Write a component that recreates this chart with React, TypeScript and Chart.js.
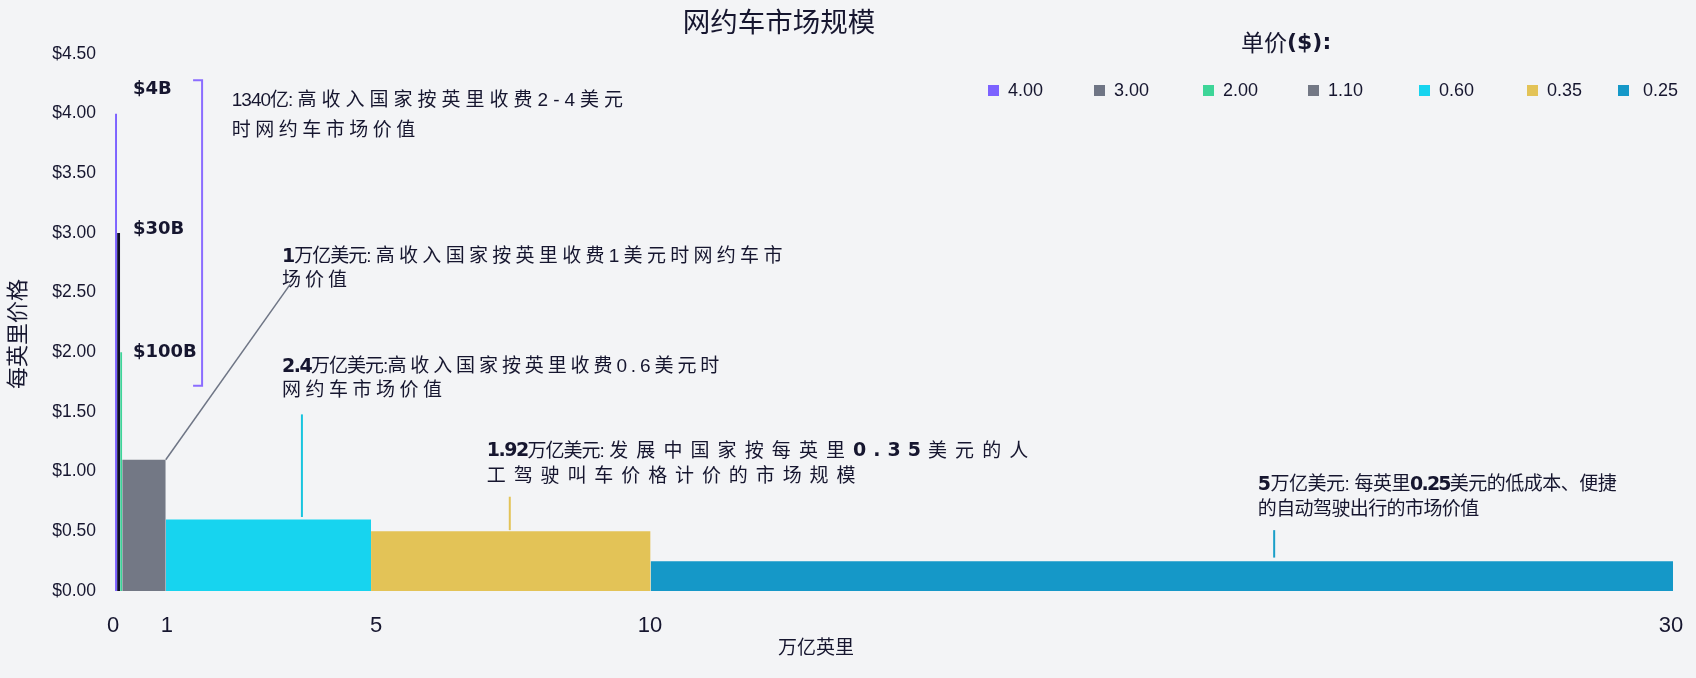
import React, { useEffect, useRef } from 'react';
import { Chart, registerables } from 'chart.js';

Chart.register(...registerables);

// unit price per mile (bar heights) and legend text
const pricePerMile = [4, 3, 2, 1.1, 0.6, 0.5, 0.25];
const priceLabels = ['4.00', '3.00', '2.00', '1.10', '0.60', '0.35', ' 0.25'];
// trillion miles covered by each price band
const milesStart = [0.04, 0.08, 0.14, 0.18, 1.03, 5.04, 10.5];
const milesEnd = [0.08, 0.14, 0.18, 1.03, 5.04, 10.5, 30.47];
const xTickValues = [0, 1.05, 5.14, 10.49, 30.43];
const xTickLabels = ['0', '1', '5', '10', '30'];
const marketLabels = ['$4B', '$30B', '$100B'];
const marketLabelY = [4.2, 3.03, 2.0];

const barColors = ['#7C62FF', '#0D0D26', '#3DD598', '#737885', '#17D4EF', '#E3C357', '#1598C8'];
const legendColors = ['#7C62FF', '#6F7585', '#3DD598', '#737885', '#17D4EF', '#E3C357', '#1598C8'];

const TEXT = '#16162F';
const FONT = '"Liberation Sans", Arial, "Noto Sans CJK SC", sans-serif';
const HEAVY = '"DejaVu Sans", "Liberation Sans", "Noto Sans CJK SC", sans-serif';
const CJK = '"Noto Sans CJK SC", "Liberation Sans", sans-serif';

type Run = { t: string; bold?: boolean; sp?: number };
type Note = { x: number; y: number; lines: Run[][]; size: number; lh: number };

const notes: Note[] = [
  {
    x: 2.32, y: 4.11, size: 19, lh: 30,
    lines: [
      [{ t: '1340亿:', sp: -1 }, { t: ' ' }, { t: '高收入国家按英里收费2-4美元', sp: 5 }],
      [{ t: '时网约车市场价值', sp: 4.5 }],
    ],
  },
  {
    x: 3.3, y: 2.8, size: 19, lh: 24,
    lines: [
      [{ t: '1', bold: true, sp: -1 }, { t: '万亿美元:', sp: -1 }, { t: ' ' }, { t: '高收入国家按英里收费1美元时网约车市', sp: 4.3 }],
      [{ t: '场价值', sp: 4 }],
    ],
  },
  {
    x: 3.3, y: 1.88, size: 19, lh: 24,
    lines: [
      [{ t: '2.4', bold: true, sp: -1.5 }, { t: '万亿美元:', sp: -1 }, { t: '高收入国家按英里收费0.6美元时', sp: 3.9 }],
      [{ t: '网约车市场价值', sp: 4.5 }],
    ],
  },
  {
    x: 7.3, y: 1.17, size: 19, lh: 25,
    lines: [
      [{ t: '1.92', bold: true, sp: -1.5 }, { t: '万亿美元:', sp: -1 }, { t: ' ' }, { t: '发展中国家按每英里', sp: 8.1 }, { t: '0.35', bold: true, sp: 7 }, { t: '美元的人', sp: 8.1 }],
      [{ t: '工驾驶叫车价格计价的市场规模', sp: 7.9 }],
    ],
  },
  {
    x: 22.36, y: 0.89, size: 19, lh: 25,
    lines: [
      [{ t: '5', bold: true, sp: -0.5 }, { t: '万亿美元:', sp: -0.5 }, { t: ' ' }, { t: '每英里', sp: -0.5 }, { t: '0.25', bold: true, sp: -1.8 }, { t: '美元的低成本、便捷', sp: -0.5 }],
      [{ t: '的自动驾驶出行的市场价值', sp: -0.6 }],
    ],
  },
];

function drawRuns(ctx: CanvasRenderingContext2D, x: number, y: number, runs: Run[], size: number) {
  let cx = x;
  for (const r of runs) {
    ctx.font = r.bold ? `bold ${size}px ${HEAVY}` : `${size}px ${FONT}`;
    for (const ch of Array.from(r.t)) {
      ctx.fillText(ch, cx, y);
      cx += ctx.measureText(ch).width + (r.sp ?? 0);
    }
  }
}

const overlay = {
  id: 'overlay',
  afterDraw(chart: Chart) {
    const ctx = chart.ctx;
    const xs = chart.scales.x;
    const ys = chart.scales.y;
    const px = (v: number) => xs.getPixelForValue(v);
    const py = (v: number) => ys.getPixelForValue(v);
    ctx.save();
    ctx.fillStyle = TEXT;
    ctx.textBaseline = 'middle';

    // title
    ctx.textAlign = 'center';
    ctx.font = `27.5px ${CJK}`;
    ctx.fillText('网约车市场规模', 779, 22);

    // axis titles
    ctx.font = `19px ${CJK}`;
    ctx.fillText('万亿英里', 816, 647);
    ctx.save();
    ctx.translate(17, 334);
    ctx.rotate(-Math.PI / 2);
    ctx.font = `22px ${CJK}`;
    ctx.fillText('每英里价格', 0, 0);
    ctx.restore();

    // legend
    ctx.textAlign = 'left';
    ctx.font = `23px ${CJK}`;
    ctx.fillText('单价', 1241, 42);
    const w = ctx.measureText('单价').width;
    ctx.font = `bold 22px ${HEAVY}`;
    ctx.fillText('($):', 1241 + w, 43);
    const legendX = [988, 1094, 1203, 1308, 1419, 1527, 1618];
    ctx.font = `18px ${FONT}`;
    priceLabels.forEach((lab, i) => {
      ctx.fillStyle = legendColors[i];
      ctx.fillRect(legendX[i], 85, 11, 11);
      ctx.fillStyle = TEXT;
      ctx.fillText(lab, legendX[i] + 20, 91);
    });

    // market size labels on thin bars
    ctx.font = `bold 18px ${HEAVY}`;
    marketLabels.forEach((lab, i) => ctx.fillText(lab, px(0.39), py(marketLabelY[i])));

    // bracket
    ctx.strokeStyle = '#8B6CFF';
    ctx.lineWidth = 2;
    ctx.beginPath();
    ctx.moveTo(px(1.74) - 9, py(4.28));
    ctx.lineTo(px(1.74), py(4.28));
    ctx.lineTo(px(1.74), py(1.72));
    ctx.lineTo(px(1.74) - 9, py(1.72));
    ctx.stroke();

    // leader lines
    ctx.strokeStyle = '#6E7585';
    ctx.lineWidth = 1.5;
    ctx.beginPath();
    ctx.moveTo(px(milesEnd[3]), py(pricePerMile[3]));
    ctx.lineTo(px(3.46), py(2.57));
    ctx.stroke();
    const vlines: [number, number, number, string][] = [
      [3.69, 0.62, 1.48, '#17C5DE'],
      [7.75, 0.51, 0.79, '#E3C357'],
      [22.68, 0.28, 0.51, '#1A9FC8'],
    ];
    ctx.lineWidth = 2;
    vlines.forEach(([x, y0, y1, c]) => {
      ctx.strokeStyle = c;
      ctx.beginPath();
      ctx.moveTo(px(x), py(y0));
      ctx.lineTo(px(x), py(y1));
      ctx.stroke();
    });

    // annotations
    ctx.fillStyle = TEXT;
    notes.forEach((n) => {
      n.lines.forEach((runs, i) => drawRuns(ctx, px(n.x), py(n.y) + i * n.lh, runs, n.size));
    });
    ctx.restore();
  },
};

const App: React.FC = () => {
  const canvasRef = useRef<HTMLCanvasElement | null>(null);

  useEffect(() => {
    document.body.style.margin = '0';
    document.body.style.background = '#F3F4F6';
    if (!canvasRef.current) return;

    const chart = new Chart(canvasRef.current, {
      type: 'line',
      data: {
        datasets: pricePerMile.map((p, i) => ({
          label: priceLabels[i],
          data: [
            { x: milesStart[i], y: p },
            { x: milesEnd[i], y: p },
          ],
          backgroundColor: barColors[i],
          borderColor: barColors[i],
          borderWidth: 0,
          pointRadius: 0,
          fill: 'origin',
        })),
      },
      options: {
        animation: false,
        responsive: false,
        layout: { padding: { top: 54, right: 23, left: 0, bottom: 0 } },
        plugins: {
          legend: { display: false },
          tooltip: { enabled: false },
          title: { display: false },
        },
        scales: {
          x: {
            type: 'linear',
            min: 0,
            max: 30.47,
            grid: { display: false, drawTicks: false },
            border: { display: false },
            afterBuildTicks: (axis: any) => {
              axis.ticks = xTickValues.map((v) => ({ value: v }));
            },
            afterFit: (axis: any) => {
              axis.height = 87;
              axis.paddingLeft = 0;
              axis.paddingRight = 0;
            },
            ticks: {
              autoSkip: false,
              maxRotation: 0,
              padding: 22,
              color: TEXT,
              font: { family: FONT, size: 22 },
              callback: (_v: any, i: number) => xTickLabels[i],
            },
          },
          y: {
            min: 0,
            max: 4.5,
            grid: { display: false, drawTicks: false },
            border: { display: false },
            afterFit: (axis: any) => {
              axis.width = 113;
              axis.paddingTop = 0;
              axis.paddingBottom = 0;
            },
            ticks: {
              stepSize: 0.5,
              padding: 17,
              color: TEXT,
              font: { family: FONT, size: 17.5 },
              callback: (v: any) => '$' + Number(v).toFixed(2),
            },
          },
        },
      },
      plugins: [overlay],
    });

    return () => chart.destroy();
  }, []);

  return (
    <div style={{ width: 1696, height: 678, background: '#F3F4F6' }}>
      <canvas ref={canvasRef} width={1696} height={678} style={{ width: 1696, height: 678 }} />
    </div>
  );
};

export default App;
